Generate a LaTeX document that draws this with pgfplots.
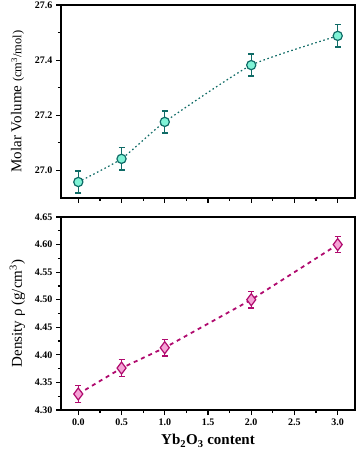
\documentclass[border=0pt]{standalone}
\usepackage{fontspec}
\setmainfont{Liberation Serif}
\usepackage{pgfplots}
\pgfplotsset{compat=1.18}
\definecolor{tealline}{HTML}{0F6B66}
\definecolor{tealfill}{HTML}{7FF3D6}
\definecolor{magline}{HTML}{B00A6E}
\definecolor{magfill}{HTML}{F5A3D6}
\begin{document}
\begin{tikzpicture}
\useasboundingbox (0pt,0pt) rectangle (357pt,455pt);
\pgfplotsset{
  common/.style={
    scale only axis, width=294pt, height=193pt,
    xmin=-0.2, xmax=3.2,
    xtick={0,0.5,1,1.5,2,2.5,3},
    minor x tick num=1, minor y tick num=1,
    xtick pos=bottom, ytick pos=left, tick align=outside,
    major tick length=5pt, minor tick length=3pt,
    axis line style={line width=1.4pt},
    every tick/.style={line width=1.2pt, black},
    /pgf/number format/assume math mode=true,
    tick label style={font=\fontsize{10}{12}\selectfont\bfseries},
    /pgf/number format/fixed, /pgf/number format/fixed zerofill,
    ylabel style={at={(axis description cs:-0.148,0.5)}, anchor=center, font=\fontsize{15}{17}\selectfont},
  }
}
\begin{axis}[common, at={(61pt,257pt)}, anchor=south west,
  ymin=26.9, ymax=27.6, ytick={27.0,27.2,27.4,27.6},
  xticklabels={},
  yticklabel style={/pgf/number format/precision=1},
  ylabel={Molar Volume {\fontsize{12.5}{14}\selectfont(cm\textsuperscript{3}/mol)}}]
\addplot[tealline, line width=1.2pt, dash pattern=on 1.6pt off 2.6pt, smooth, tension=0.3] coordinates {(0,26.958) (0.5,27.042) (1,27.176) (2,27.382) (3,27.488)};
\addplot[tealline, line width=1.2pt, only marks, mark=*, mark size=4.6pt,
  mark options={fill=tealfill, draw=tealline, solid, line width=1.2pt},
  error bars/.cd, y dir=both, y explicit,
  error bar style={line width=1.3pt, tealline}, error mark options={rotate=90, mark size=3pt, line width=1.3pt, tealline}]
  coordinates {(0,26.958) +- (0,0.04) (0.5,27.042) +- (0,0.04) (1,27.176) +- (0,0.04) (2,27.382) +- (0,0.04) (3,27.488) +- (0,0.04)};
\end{axis}
\begin{axis}[common, at={(61pt,45pt)}, anchor=south west,
  ymin=4.30, ymax=4.65, ytick={4.30,4.35,...,4.66},
  xticklabel style={/pgf/number format/precision=1},
  yticklabel style={/pgf/number format/precision=2},
  xlabel={\textbf{Yb\textsubscript{2}O\textsubscript{3} content}},
  xlabel style={at={(axis description cs:0.5,-0.16)}, anchor=center, font=\fontsize{15}{17}\selectfont},
  ylabel={Density \textrm{ρ} (g/cm\textsuperscript{3})}]
\addplot[magline, line width=1.8pt, dash pattern=on 4pt off 4pt] coordinates {(0,4.329) (0.5,4.376) (1,4.413) (2,4.500) (3,4.600)};
\addplot[magline, only marks, mark=diamond*, mark size=6pt,
  mark options={fill=magfill, solid, line width=1.2pt, draw=magline},
  error bars/.cd, y dir=both, y explicit,
  error bar style={line width=1.3pt, magline}, error mark options={rotate=90, mark size=3pt, line width=1.3pt, magline}]
  coordinates {(0,4.329) +- (0,0.015) (0.5,4.376) +- (0,0.015) (1,4.413) +- (0,0.015) (2,4.500) +- (0,0.015) (3,4.600) +- (0,0.015)};
\end{axis}
\end{tikzpicture}
\end{document}
